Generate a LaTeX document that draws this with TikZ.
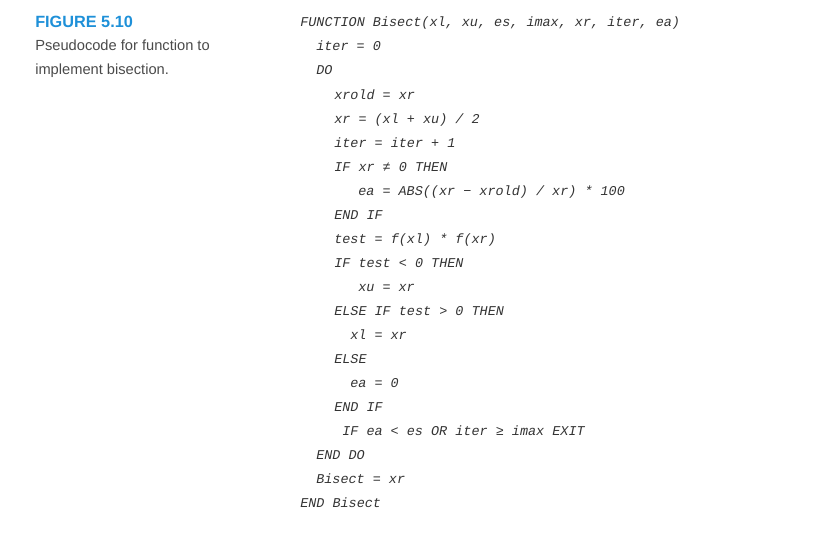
\documentclass[tikz,border=0pt]{standalone}
\usepackage{fontspec}
\setmainfont{Liberation Sans}
\newfontfamily\codefont{Liberation Mono}
\definecolor{figblue}{HTML}{1E90D8}
\definecolor{capgray}{HTML}{4A4A4A}
\definecolor{codegray}{HTML}{333333}
\begin{document}
\begin{tikzpicture}[x=0.75pt,y=-0.75pt,
  code/.style={anchor=base west,inner sep=0pt,text=codegray,font=\codefont\itshape\fontsize{10.1}{12}\selectfont},
  captext/.style={anchor=base west,inner sep=0pt,text=capgray,font=\fontsize{11}{13}\selectfont}]
\useasboundingbox (0,0) rectangle (840,555);
\node[anchor=base west,inner sep=0pt,text=figblue,font=\bfseries\fontsize{12.2}{14}\selectfont] (fig) at (35,28) {FIGURE 5.10};
\node[captext] (c1) at (35,51) {Pseudocode for function to};
\node[captext] (c2) at (35,75) {implement bisection.};
\node[code] (l1) at (300,27) {FUNCTION Bisect(xl, xu, es, imax, xr, iter, ea)};
\node[code] (l2) at (316,51) {iter = 0};
\node[code] (l3) at (316,75) {DO};
\node[code] (l4) at (334,100) {xrold = xr};
\node[code] (l5) at (334,124) {xr = (xl + xu) / 2};
\node[code] (l6) at (334,148) {iter = iter + 1};
\node[code] (l7) at (334,172) {IF xr ≠ 0 THEN};
\node[code] (l8) at (358,196) {ea = ABS((xr − xrold) / xr) * 100};
\node[code] (l9) at (334,220) {END IF};
\node[code] (l10) at (334,244) {test = f(xl) * f(xr)};
\node[code] (l11) at (334,268) {IF test < 0 THEN};
\node[code] (l12) at (358,292) {xu = xr};
\node[code] (l13) at (334,316) {ELSE IF test > 0 THEN};
\node[code] (l14) at (350,340) {xl = xr};
\node[code] (l15) at (334,364) {ELSE};
\node[code] (l16) at (350,388) {ea = 0};
\node[code] (l17) at (334,412) {END IF};
\node[code] (l18) at (342,436) {IF ea < es OR iter ≥ imax EXIT};
\node[code] (l19) at (316,460) {END DO};
\node[code] (l20) at (316,484) {Bisect = xr};
\node[code] (l21) at (300,508) {END Bisect};
\end{tikzpicture}
\end{document}
